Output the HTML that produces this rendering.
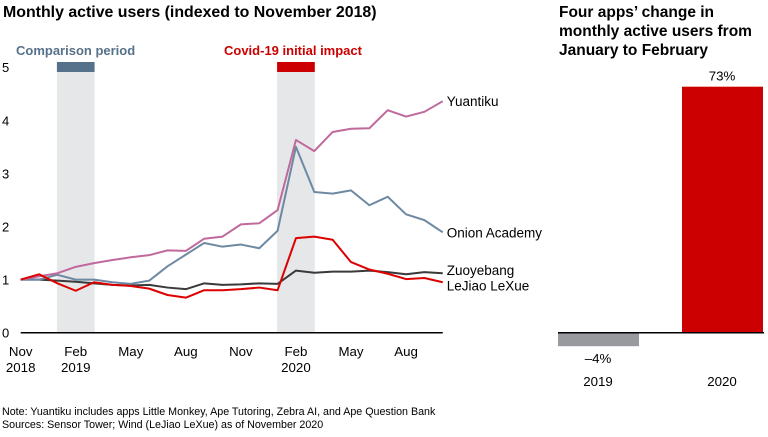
<!DOCTYPE html>
<html><head><meta charset="utf-8"><style>
body{margin:0;background:#fff;font-family:"Liberation Sans",sans-serif;}
svg text{font-family:"Liberation Sans",sans-serif;}
</style></head><body>
<svg width="768" height="432" viewBox="0 0 768 432">
<text x="3" y="17" font-size="15.9" font-weight="bold" fill="#000">Monthly active users (indexed to November 2018)</text>
<text x="560" y="17" font-size="15.5" font-weight="bold" fill="#000"><tspan x="559" dy="0">Four apps’ change in</tspan><tspan x="559" dy="19">monthly active users from</tspan><tspan x="559" dy="19">January to February</tspan></text>
<g id="line"></g>
<g id="bar"></g>
<text x="2" y="415" font-size="10.7" fill="#000">Note: Yuantiku includes apps Little Monkey, Ape Tutoring, Zebra AI, and Ape Question Bank</text>
<text x="2" y="428" font-size="10.7" fill="#000">Sources: Sensor Tower; Wind (LeJiao LeXue) as of November 2020</text>
</svg>
<script>
const months = ["Nov 2018","Dec","Jan","Feb 2019","Mar","Apr","May","Jun","Jul","Aug","Sep","Oct","Nov","Dec","Jan","Feb 2020","Mar","Apr","May","Jun","Jul","Aug","Sep","Oct 2020"];
const yuantiku = [1.0,1.06,1.12,1.24,1.31,1.37,1.42,1.46,1.55,1.54,1.77,1.81,2.04,2.06,2.31,3.63,3.42,3.78,3.84,3.85,4.19,4.07,4.16,4.36];
const onion = [1.0,1.0,1.09,1.0,1.0,0.95,0.92,0.98,1.25,1.47,1.69,1.62,1.66,1.59,1.92,3.5,2.65,2.62,2.68,2.4,2.56,2.23,2.12,1.89];
const zuoyebang = [1.0,1.0,0.98,0.96,0.93,0.9,0.89,0.9,0.85,0.82,0.93,0.9,0.91,0.93,0.92,1.17,1.13,1.15,1.15,1.17,1.14,1.1,1.14,1.12];
const lejiao = [1.0,1.1,0.93,0.79,0.95,0.9,0.88,0.83,0.71,0.66,0.8,0.8,0.82,0.85,0.8,1.78,1.81,1.75,1.33,1.19,1.11,1.01,1.03,0.95];
const yTicks = [0,1,2,3,4,5];
const xTickIdx = [0,3,6,9,12,15,18,21];
const xTickLabels = [["Nov","2018"],["Feb","2019"],["May",""],["Aug",""],["Nov",""],["Feb","2020"],["May",""],["Aug",""]];
const barCats = ["2019","2020"];
const barVals = [-4,73];
const barLabels = ["\u20134%","73%"];

const NS="http://www.w3.org/2000/svg";
function mk(p,t,a){const e=document.createElementNS(NS,t);for(const k in a)e.setAttribute(k,a[k]);p.appendChild(e);return e;}
const X=i=>20.7+i*18.35;
const Y=v=>332.7-v*53.1;
const g=document.getElementById('line');
[[2,4,"#56718a","comparison"],[14,16,"#cc0000","covid"]].forEach(([a,b,c,n])=>{
  const r=mk(g,'rect',{x:X(a)-0.5,y:72,width:X(b)-X(a)+1,height:Y(0)-72,fill:'#e6e7e9'});
  
  
  const h=mk(g,'rect',{x:X(a)-0.5,y:62,width:X(b)-X(a)+1,height:10,fill:c});
  
  
});
let t=mk(g,'text',{x:16,y:55,'font-size':13,'font-weight':'bold',fill:'#56718a'});t.textContent='Comparison period';


t=mk(g,'text',{x:224,y:55,'font-size':13,'font-weight':'bold',fill:'#cc0000'});t.textContent='Covid-19 initial impact';


yTicks.forEach(v=>{const e=mk(g,'text',{x:2,y:Y(v)+5,'font-size':13,fill:'#000'});e.textContent=v;

});
xTickIdx.forEach((i,k)=>{const e=mk(g,'text',{x:X(i),y:356,'font-size':13.3,'text-anchor':'middle',fill:'#000'});


const a=mk(e,'tspan',{x:X(i),dy:0});a.textContent=xTickLabels[k][0];
const b=mk(e,'tspan',{x:X(i),dy:16});b.textContent=xTickLabels[k][1];});
const series=[[zuoyebang,'#3a3a3a','zuoyebang-line'],[onion,'#6e8aa3','onion-academy-line'],[yuantiku,'#c0699c','yuantiku-line'],[lejiao,'#dd0000','lejiao-line']];
series.forEach(([d,c,n])=>{const p=mk(g,'polyline',{points:d.map((v,i)=>X(i)+','+Y(v)).join(' '),fill:'none',stroke:c,'stroke-width':2,'stroke-linejoin':'round'});

});
const ax=mk(g,'line',{x1:X(0),x2:X(23),y1:Y(0),y2:Y(0),stroke:'#000','stroke-width':1.5});


const last=months.length-1;
[[yuantiku,'Yuantiku',0],[onion,'Onion Academy',0],[zuoyebang,'Zuoyebang',-3],[lejiao,'LeJiao LeXue',3]].forEach(([d,l,o])=>{
const e=mk(g,'text',{x:X(last)+4,y:Y(d[last])+5+o,'font-size':13.5,fill:'#000'});e.textContent=l;

});
const b=document.getElementById('bar');
const BY=v=>332.7-v*3.37;
const bx=[558,682];
barVals.forEach((v,i)=>{const top=Math.min(BY(v),BY(0)),h=Math.abs(BY(v)-BY(0));
const r=mk(b,'rect',{x:bx[i],y:top,width:81,height:h,fill:i?'#cc0000':'#999a9e'});


const ly=v>=0?BY(v)-6:BY(v)+17;
const l=mk(b,'text',{x:bx[i]+40,y:ly,'font-size':13.3,'text-anchor':'middle',fill:'#000'});l.textContent=barLabels[i];


const c=mk(b,'text',{x:bx[i]+40,y:386,'font-size':13.3,'text-anchor':'middle',fill:'#000'});c.textContent=barCats[i];

});
const bl=mk(b,'line',{x1:558,x2:764,y1:BY(0),y2:BY(0),stroke:'#000','stroke-width':1.5});


</script>
</body></html>
